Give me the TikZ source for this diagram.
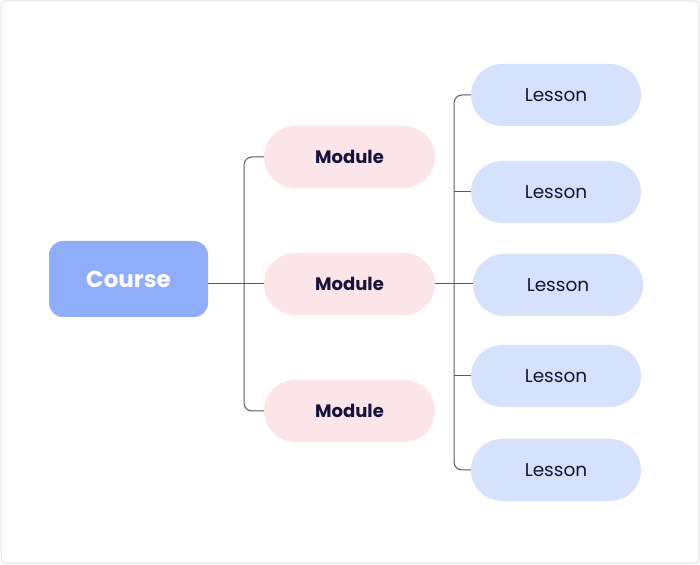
\documentclass[tikz,border=0pt]{standalone}
\usepackage{fontspec}
\setmainfont{Poppins}
\definecolor{coursecol}{HTML}{8FADFB}
\definecolor{modcol}{HTML}{FCE5E9}
\definecolor{lescol}{HTML}{D6E2FC}
\definecolor{txtcol}{HTML}{15123B}
\definecolor{linecol}{HTML}{5A5A5A}
\definecolor{framecol}{HTML}{E2E2E2}
\begin{document}
\begin{tikzpicture}[x=1pt,y=1pt,
  coursebox/.style={fill=coursecol, rounded corners=14pt, minimum width=159pt, minimum height=76pt, text=white, font=\fontsize{23}{26}\selectfont\bfseries, inner sep=0pt},
  modbox/.style={fill=modcol, rounded corners=31pt, minimum width=171pt, minimum height=62pt, text=txtcol, font=\fontsize{18}{21}\selectfont\bfseries, inner sep=0pt},
  lesbox/.style={fill=lescol, rounded corners=31pt, minimum width=170pt, minimum height=62pt, text=txtcol, font=\fontsize{18.5}{21}\selectfont, inner sep=0pt},
  conn/.style={draw=linecol, line width=1pt}]
\useasboundingbox (0,0) rectangle (700,564);
\draw[framecol, line width=1pt, rounded corners=4pt] (1,1) rectangle (699,563);

\node[coursebox] (course) at (128.5,285) {Course};
\node[modbox] (m1) at (349.5,407) {Module};
\node[modbox] (m2) at (349.5,280) {Module};
\node[modbox] (m3) at (349.5,153) {Module};
\node[lesbox] (l1) at (556,469) {Lesson};
\node[lesbox] (l2) at (556,372) {Lesson};
\node[lesbox] (l3) at (558,279) {Lesson};
\node[lesbox] (l4) at (556,188) {Lesson};
\node[lesbox] (l5) at (556,94) {Lesson};

\coordinate (mt) at (244,0);
\coordinate (lt) at (454,0);

\draw[conn] (m2.west) -- (m2.west -| course.east);
\draw[conn, rounded corners=8pt] (m1.west) -- (m1.west -| mt) |- (m3.west);

\draw[conn] (m2.east) -- (m2.east -| l3.west);
\draw[conn, rounded corners=8pt] (l1.west) -- (l1.west -| lt) |- (l5.west);
\draw[conn] (l2.west) -- (l2.west -| lt);
\draw[conn] (l4.west) -- (l4.west -| lt);
\end{tikzpicture}
\end{document}
